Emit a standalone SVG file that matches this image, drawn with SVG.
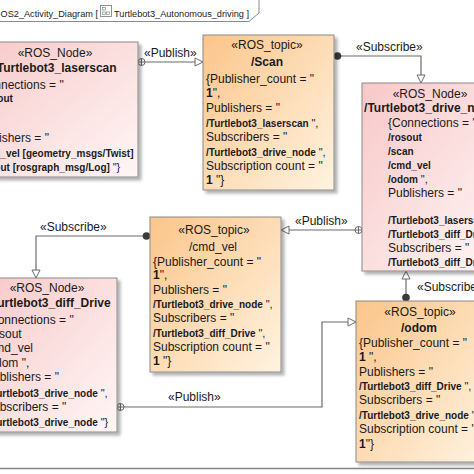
<svg xmlns="http://www.w3.org/2000/svg" width="474" height="474" viewBox="0 0 474 474">
<defs>
<linearGradient id="gNode" x1="0" y1="0" x2="1" y2="1"><stop offset="0" stop-color="#f8c8c8"/><stop offset="1" stop-color="#fff6f6"/></linearGradient>
<linearGradient id="gTopic" x1="0" y1="0" x2="1" y2="1"><stop offset="0" stop-color="#fbc58a"/><stop offset="1" stop-color="#fff3e0"/></linearGradient>
<filter id="sh" x="-10%" y="-10%" width="130%" height="130%"><feDropShadow dx="3" dy="3" stdDeviation="1.5" flood-color="#000" flood-opacity="0.3"/></filter>
<marker id="arrow" viewBox="0 0 10 10" refX="9" refY="5" markerWidth="10" markerHeight="10" markerUnits="userSpaceOnUse" orient="auto"><path d="M1,1 L9,5 L1,9 Z" fill="#fff" stroke="#6b6b6b" stroke-width="1"/></marker>
<marker id="oplus" viewBox="-5 -5 10 10" refX="0" refY="0" markerWidth="10" markerHeight="10" markerUnits="userSpaceOnUse" orient="auto"><circle r="3.5" fill="#fff" stroke="#6b6b6b" stroke-width="1"/><path d="M-3.5,0 H3.5 M0,-3.5 V3.5" stroke="#6b6b6b" stroke-width="1"/></marker>
<marker id="dot" viewBox="-5 -5 10 10" refX="0" refY="0" markerWidth="10" markerHeight="10" markerUnits="userSpaceOnUse" orient="auto"><circle r="3.8" fill="#3a3a3a"/></marker>
</defs>
<style>
.box{stroke:#8a8a8a;stroke-width:1;filter:url(#sh)}
.node{fill:url(#gNode)}
.topic{fill:url(#gTopic)}
text{font-family:"Liberation Sans",Arial,sans-serif;fill:#1a1a1a}
.st{font-size:12px;text-anchor:middle}
.ttl{font-size:12px;font-weight:bold;text-anchor:middle}
.tr{font-size:12px;text-anchor:middle}
.b{font-size:12px}
.bb{font-size:10px;font-weight:bold}
.r{font-weight:normal;font-size:11px}
.lbl{font-size:12px}
.tab{font-size:9.2px}
.conn{fill:none;stroke:#6b6b6b;stroke-width:1.2}
</style>
<rect width="474" height="474" fill="#fff"/>
<g id="frame">
<path d="M-1,21.5 H249 L259,13 V-1" fill="none" stroke="#8a8a8a" stroke-width="1"/>
<text class="tab" x="0.5" y="16.5">OS2_Activity_Diagram [</text>
<rect x="100.5" y="5.5" width="11" height="11" fill="#fff" stroke="#777" stroke-width="0.8"/>
<rect x="102.5" y="7.5" width="3" height="2.5" fill="none" stroke="#777" stroke-width="0.6"/>
<rect x="106.5" y="12" width="3" height="2.5" fill="none" stroke="#777" stroke-width="0.6"/>
<rect x="102.5" y="12" width="3" height="2.5" fill="none" stroke="#777" stroke-width="0.6"/>
<text class="tab" x="114" y="16.5">Turtlebot3_Autonomous_driving ]</text>
<line x1="-1" y1="468.5" x2="475" y2="468.5" stroke="#858585" stroke-width="1.5"/>
</g>
<g id="connectors">
<polyline class="conn" points="141.5,62 203,62" marker-start="url(#oplus)" marker-end="url(#arrow)"/>
<text class="lbl" x="144" y="57">«Publish»</text>
<polyline class="conn" points="337.5,56 421,56 421,83" marker-start="url(#dot)" marker-end="url(#arrow)"/>
<text class="lbl" x="356" y="51">«Subscribe»</text>
<polyline class="conn" points="358.5,230 281,230" marker-start="url(#oplus)" marker-end="url(#arrow)"/>
<text class="lbl" x="295" y="225">«Publish»</text>
<polyline class="conn" points="406,297.5 406,271" marker-start="url(#dot)" marker-end="url(#arrow)"/>
<text class="lbl" x="417" y="291">«Subscribe»</text>
<polyline class="conn" points="146.5,236 36,236 36,278" marker-start="url(#dot)" marker-end="url(#arrow)"/>
<text class="lbl" x="40" y="231">«Subscribe»</text>
<polyline class="conn" points="120.5,407 322,407 322,322 356,322" marker-start="url(#oplus)" marker-end="url(#arrow)"/>
<text class="lbl" x="168" y="401">«Publish»</text>
</g>
<g id="node-laserscan">
<rect class="box node" x="-30" y="42" width="168" height="135"/>
<text class="st" x="55" y="57">«ROS_Node»</text>
<text class="ttl" x="55" y="72">/Turtlebot3_laserscan</text>
<text class="b" x="-25" y="89">{Connections = "</text>
<text class="bb" x="-21" y="102">/rosout</text>
<text class="b" x="-25" y="142">Publishers = "</text>
<text class="bb" x="-23" y="157">/cmd_vel [geometry_msgs/Twist]</text>
<text class="bb" x="-24" y="171">/rosout [rosgraph_msg/Log] <tspan class="r">"}</tspan></text>
</g>
<g id="topic-scan">
<rect class="box topic" x="203" y="35" width="131" height="155"/>
<text class="st" x="267" y="49">«ROS_topic»</text>
<text class="ttl" x="267" y="66">/Scan</text>
<text class="b" x="206" y="83">{Publisher_count = "</text>
<text class="b" x="206" y="97"><tspan font-weight="bold">1</tspan>",</text>
<text class="b" x="206" y="112">Publishers = "</text>
<text class="bb" x="206" y="127">/Turtlebot3_laserscan <tspan class="r">",</tspan></text>
<text class="b" x="206" y="141">Subscribers = "</text>
<text class="bb" x="206" y="156">/Turtlebot3_drive_node <tspan class="r">",</tspan></text>
<text class="b" x="206" y="170">Subscription count = "</text>
<text class="b" x="206" y="184"><tspan font-weight="bold">1</tspan> "}</text>
</g>
<g id="node-drive">
<rect class="box node" x="362" y="83" width="140" height="188"/>
<text class="st" x="430" y="98">«ROS_Node»</text>
<text class="ttl" x="430" y="112">/Turtlebot3_drive_node</text>
<text class="b" x="388" y="127">{Connections = "</text>
<text class="bb" x="388" y="140.5">/rosout</text>
<text class="bb" x="388" y="154.5">/scan</text>
<text class="bb" x="388" y="168.5">/cmd_vel</text>
<text class="bb" x="388" y="182.5">/odom <tspan class="r">",</tspan></text>
<text class="b" x="388" y="197">Publishers = "</text>
<text class="bb" x="388" y="223.5">/Turtlebot3_laserscan</text>
<text class="bb" x="388" y="237.5">/Turtlebot3_diff_Drive</text>
<text class="b" x="388" y="252">Subscribers = "</text>
<text class="bb" x="388" y="265.5">/Turtlebot3_diff_Drive</text>
</g>
<g id="topic-cmd_vel">
<rect class="box topic" x="150" y="217" width="131" height="155"/>
<text class="st" x="214" y="234">«ROS_topic»</text>
<text class="tr" x="213" y="251">/cmd_vel</text>
<text class="b" x="153" y="266">{Publisher_count = "</text>
<text class="b" x="153" y="279"><tspan font-weight="bold">1</tspan>",</text>
<text class="b" x="153" y="294">Publishers = "</text>
<text class="bb" x="153" y="307.5">/Turtlebot3_drive_node <tspan class="r">",</tspan></text>
<text class="b" x="153" y="322">Subscribers = "</text>
<text class="bb" x="153" y="336.5">/Turtlebot3_diff_Drive <tspan class="r">",</tspan></text>
<text class="b" x="153" y="351">Subscription count = "</text>
<text class="b" x="153" y="365"><tspan font-weight="bold">1</tspan> "}</text>
</g>
<g id="node-diff_drive">
<rect class="box node" x="-23" y="278" width="140" height="154"/>
<text class="st" x="47" y="292">«ROS_Node»</text>
<text class="ttl" x="49" y="307">/Turtlebot3_diff_Drive</text>
<text class="b" x="-15" y="324">{Connections = "</text>
<text class="b" x="-15" y="338">/rosout</text>
<text class="b" x="-15" y="352">/cmd_vel</text>
<text class="b" x="-15" y="367">/odom ",</text>
<text class="b" x="-15" y="381">Publishers = "</text>
<text class="bb" x="-12" y="396.5">/Turtlebot3_drive_node <tspan class="r">",</tspan></text>
<text class="b" x="-15" y="411">Subscribers = "</text>
<text class="bb" x="-12" y="425.5">/Turtlebot3_drive_node <tspan class="r">"}</tspan></text>
</g>
<g id="topic-odom">
<rect class="box topic" x="356" y="301" width="130" height="161"/>
<text class="st" x="420" y="316">«ROS_topic»</text>
<text class="ttl" x="419" y="332">/odom</text>
<text class="b" x="359" y="347">{Publisher_count = "</text>
<text class="b" x="359" y="361"><tspan font-weight="bold">1</tspan> ",</text>
<text class="b" x="359" y="376">Publishers = "</text>
<text class="bb" x="359" y="389.5">/Turtlebot3_diff_Drive <tspan class="r">",</tspan></text>
<text class="b" x="359" y="404">Subscribers = "</text>
<text class="bb" x="359" y="418.5">/Turtlebot3_drive_node <tspan class="r">",</tspan></text>
<text class="b" x="359" y="433">Subscription count = "</text>
<text class="b" x="359" y="448"><tspan font-weight="bold">1</tspan>"}</text>
</g>
</svg>
